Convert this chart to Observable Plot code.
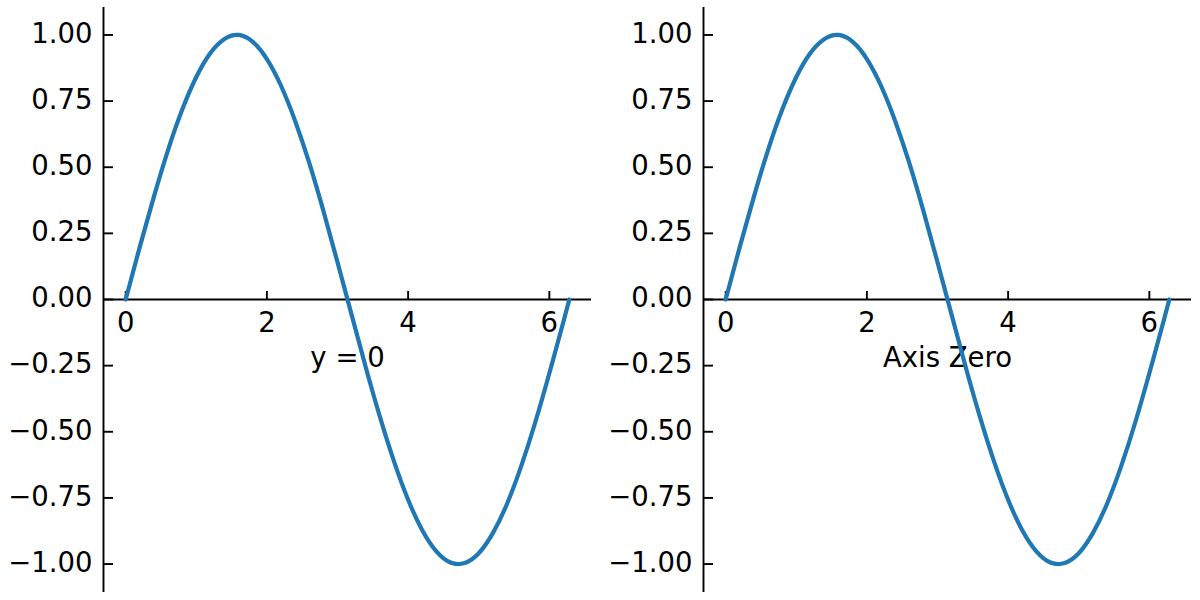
<!DOCTYPE html>
<html>
<head>
<meta charset="utf-8">
<script src="https://cdn.jsdelivr.net/npm/d3@7"></script>
<script src="https://cdn.jsdelivr.net/npm/@observablehq/plot@0.6"></script>
<style>
  html, body { margin: 0; padding: 0; background: #fff; }
  #wrap { display: flex; width: 1200px; height: 600px; }
  svg { font-family: "DejaVu Sans", sans-serif; }
</style>
</head>
<body>
<div id="wrap"></div>
<script>
// Curve points
const xs = [0, 0.2, 0.4, 0.6, 0.8, 1.0, 1.2, 1.4, 1.6, 1.8, 2.0, 2.2, 2.4, 2.6, 2.8, 3.0,
            3.2, 3.4, 3.6, 3.8, 4.0, 4.2, 4.4, 4.6, 4.8, 5.0, 5.2, 5.4, 5.6, 5.8, 6.0, 6.2, 6.283];
const ys = [0, 0.199, 0.389, 0.565, 0.717, 0.841, 0.932, 0.985, 1.0, 0.974, 0.909, 0.808, 0.675, 0.516, 0.335, 0.141,
            -0.058, -0.256, -0.443, -0.612, -0.757, -0.872, -0.952, -0.994, -0.996, -0.959, -0.883, -0.773, -0.631, -0.465, -0.279, -0.083, 0];
const xTicks = [0, 2, 4, 6];
const yTicks = [-1.0, -0.75, -0.5, -0.25, 0, 0.25, 0.5, 0.75, 1.0];
const xDomain = [-0.314, 6.597];
const yDomain = [-1.1, 1.1];
const panelLabels = ["y = 0", "Axis Zero"];

const data = xs.map((x, i) => ({x, y: ys[i]}));
const fmt = d3.format(".2f");
const FS = 27.5;

function panel(label) {
  return Plot.plot({
    width: 600,
    height: 600,
    marginLeft: 103,
    marginRight: 9,
    marginTop: 8,
    marginBottom: 10,
    x: {domain: xDomain, axis: null},
    y: {domain: yDomain, axis: null},
    style: {fontFamily: "DejaVu Sans", color: "black", background: "white"},
    marks: [
      // spines
      Plot.ruleX([xDomain[0]], {stroke: "black", strokeWidth: 1.9, insetTop: -1, insetBottom: -2}),
      Plot.ruleY([0], {stroke: "black", strokeWidth: 1.9}),
      // y ticks (inward)
      Plot.ruleY(yTicks, {y: d => d, x1: xDomain[0], x2: xDomain[0], insetRight: -10, stroke: "black", strokeWidth: 1.9}),
      Plot.text(yTicks, {x: xDomain[0], y: d => d, text: d => fmt(d), textAnchor: "end", dx: -11, dy: -1, fontSize: FS, fill: "black"}),
      // x ticks (upward)
      Plot.ruleX(xTicks, {x: d => d, y1: 0, y2: 0, insetTop: -8, stroke: "black", strokeWidth: 1.9}),
      Plot.text(xTicks, {x: d => d, y: 0, text: d => String(d), lineAnchor: "top", dy: 13, fontSize: FS, fill: "black"}),
      // axis label
      Plot.text([label], {y: 0, text: d => d, dy: 59, fontSize: FS, fill: "black"}),
      // curve
      Plot.line(data, {x: "x", y: "y", stroke: "#1f77b4", strokeWidth: 4.2, curve: "natural"})
    ]
  });
}

const wrap = document.getElementById("wrap");
panelLabels.forEach(l => wrap.appendChild(panel(l)));
</script>
</body>
</html>
